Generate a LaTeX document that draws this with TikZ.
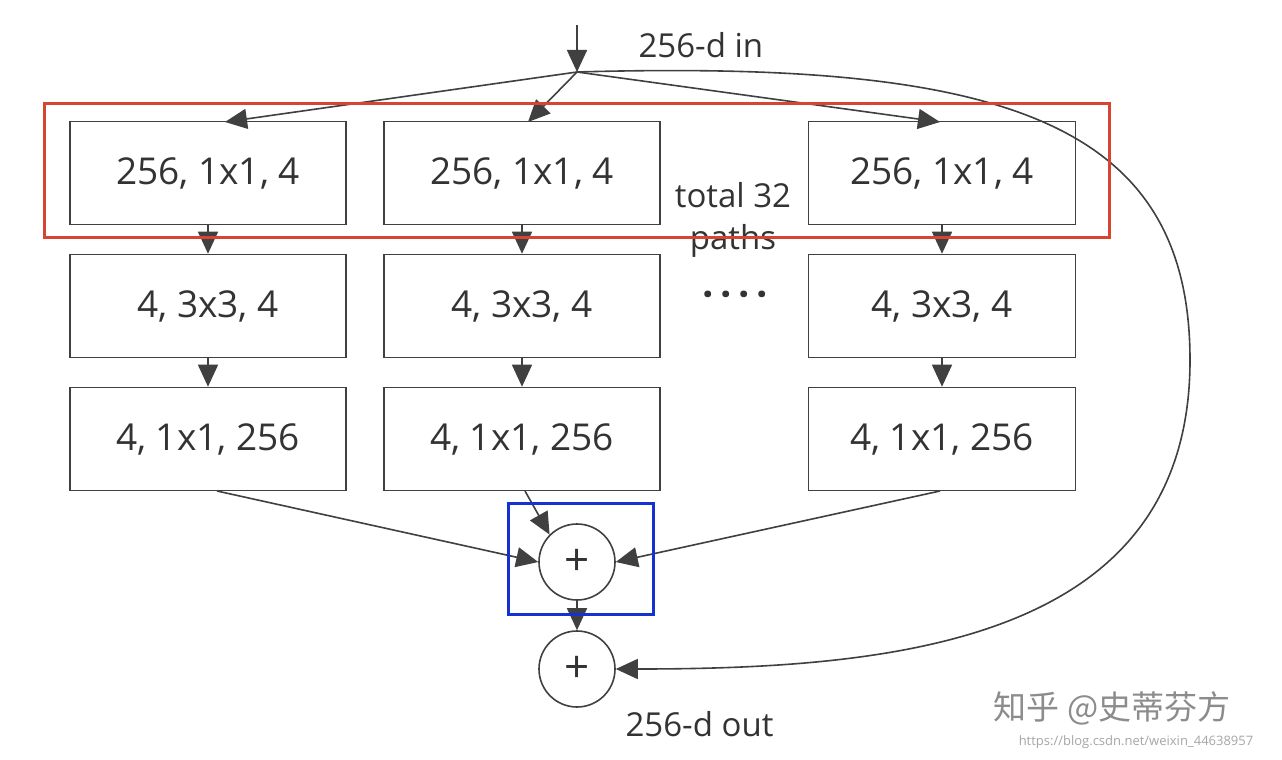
\documentclass[tikz,border=0pt]{standalone}
\usepackage{fontspec}
\setmainfont{Open Sans}
\newfontfamily\cjk{Noto Sans CJK SC}
\usetikzlibrary{arrows.meta}
\begin{document}
\begin{tikzpicture}[x=1pt,y=-1pt,
  blk/.style={draw=black!75,line width=1.6pt,minimum width=276pt,minimum height=103pt,inner sep=0pt,font=\fontsize{37}{42}\selectfont,text=black!80},
  sum/.style={draw=black!75,line width=1.6pt,circle,minimum size=76pt,inner sep=0pt,font=\fontsize{44}{44}\selectfont,text=black!80},
  con/.style={draw=black!75,line width=1.6pt,-{Triangle[length=22pt,width=20pt]}},
  lab/.style={font=\fontsize{33}{38}\selectfont,text=black!80}]
\useasboundingbox[fill=white] (0,0) rectangle (1282,760);
\foreach \c/\x/\w in {a/208/276,b/522/276,c/942/267}{
  \node[blk,minimum width=\w pt] (\c1) at (\x,173) {256, 1x1, 4};
  \node[blk,minimum width=\w pt] (\c2) at (\x,306) {4, 3x3, 4};
  \node[blk,minimum width=\w pt] (\c3) at (\x,439) {4, 1x1, 256};
  \draw[con] (\c1) -- (\c2);
  \draw[con] (\c2) -- (\c3);
}
\coordinate (top) at (577,25);
\coordinate (in) at (577,72);
\draw[con] (top) -- (in);
\node[lab,anchor=west] (tin) at (635,45) {256-d in};
\node[sum] (s1) at (577,562) {+};
\node[sum] (s2) at (577,669) {+};
\draw[con] (in) -- (225,122);
\draw[con] (in) -- (528,122);
\draw[con] (in) -- (940,122);
\draw[con] (217,491) -- (s1.west);
\draw[con] (525,491) -- (s1.north west);
\draw[con] (940,491) -- (s1.east);
\draw[con] (s1) -- (s2);
\draw[con] (in) .. controls (1000,60) and (1190,120) .. (1190,360) .. controls (1190,640) and (900,669) .. (s2.east);
\node[lab] (t32) at (733,195) {total 32};
\node[lab] (tp) at (733,241) {paths};
\node[font=\fontsize{40}{40}\selectfont,text=black!80] (dots) at (735,300) {\textbf{·\,·\,·\,·}};
\node[lab,anchor=west] (tout) at (622,724) {256-d out};
\draw[draw={rgb,255:red,214;green,68;blue,50},line width=3pt] (44,103) rectangle (1109,237);
\draw[draw={rgb,255:red,20;green,50;blue,210},line width=3pt] (508,503) rectangle (653,614);
\node[font=\cjk\fontsize{33}{36}\selectfont,text=black!45] (wm) at (1112,708) {知乎 @史蒂芬方};
\node[font=\fontsize{13}{15}\selectfont,text=black!35] (url) at (1136,742) {https://blog.csdn.net/weixin\_44638957};
\end{tikzpicture}
\end{document}
